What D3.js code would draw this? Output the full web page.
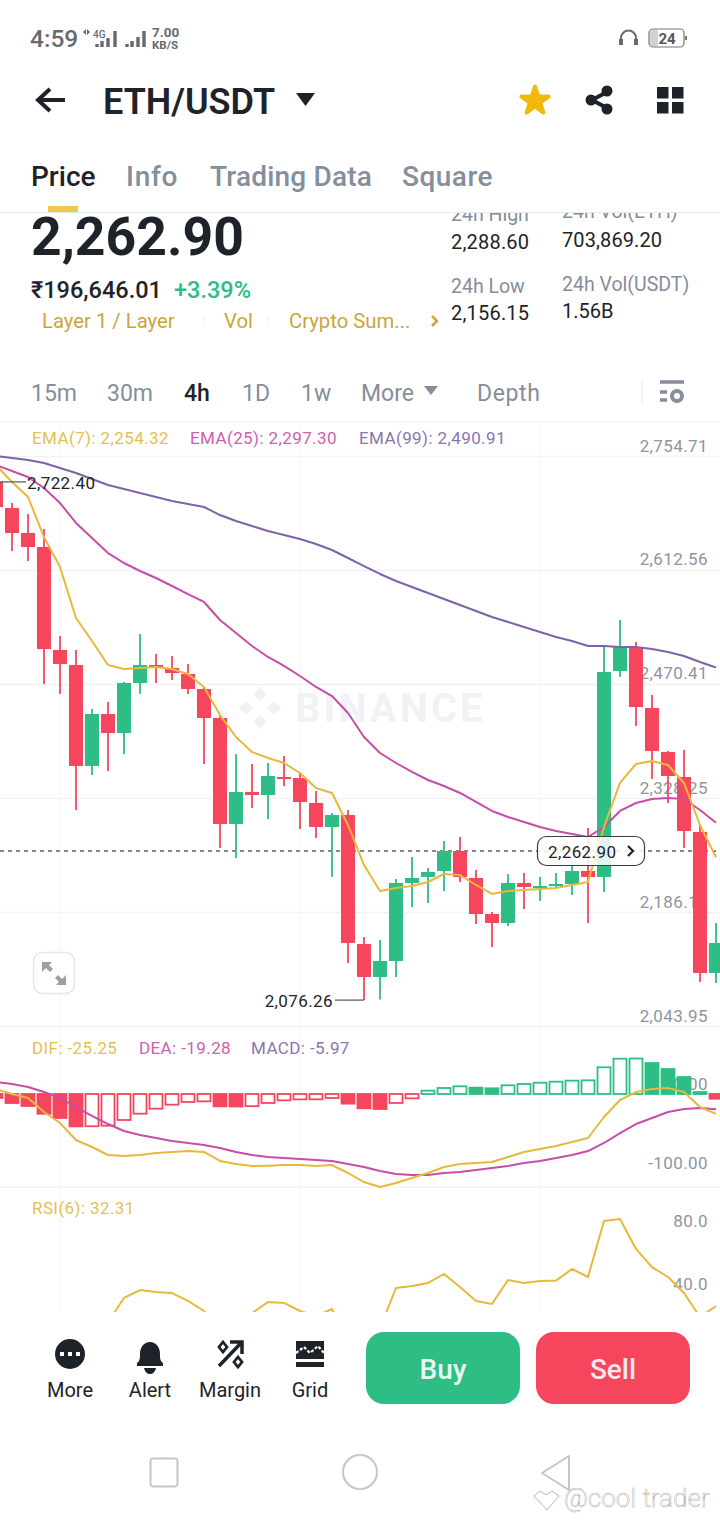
<!DOCTYPE html>
<html>
<head>
<meta charset="utf-8">
<title>ETH/USDT</title>
<script src="https://cdnjs.cloudflare.com/ajax/libs/d3/7.8.5/d3.min.js"></script>
<style>
  html, body { margin: 0; padding: 0; background: #fff; }
  svg { display: block; }
  text { font-family: Roboto, "Noto Sans", "DejaVu Sans", sans-serif; }
</style>
</head>
<body>
<div id="chart"></div>
<script>
// 4h candles
var candleOpen = [2722.4, 2689.9, 2658.7, 2641.2, 2512.8, 2494.1, 2368.2, 2433.0, 2409.3, 2471.7, 2494.1, 2490.4, 2482.9, 2464.2, 2428.0, 2295.8, 2335.7, 2332.0, 2354.4, 2353.2, 2322.0, 2292.1, 2307.1, 2146.2, 2105.1, 2125.0, 2222.3, 2229.8, 2237.2, 2262.2, 2228.5, 2183.6, 2172.4, 2222.3, 2217.3, 2219.8, 2221.0, 2237.2, 2229.8, 2486.6, 2516.5, 2440.5, 2385.6, 2354.4, 2285.9, 2110.1];
var candleHigh = [2722.4, 2696.1, 2682.4, 2663.7, 2530.3, 2512.8, 2439.2, 2448.0, 2472.9, 2532.7, 2507.8, 2505.3, 2495.3, 2466.7, 2430.5, 2383.1, 2370.7, 2371.9, 2380.6, 2360.7, 2337.0, 2309.6, 2313.3, 2154.9, 2151.2, 2227.3, 2254.7, 2241.0, 2274.6, 2279.6, 2238.5, 2186.1, 2233.5, 2234.7, 2229.8, 2234.7, 2248.5, 2290.9, 2516.5, 2550.2, 2522.8, 2456.7, 2386.9, 2388.1, 2295.8, 2172.4];
var candleLow = [2681.1, 2636.2, 2623.8, 2470.4, 2457.9, 2313.3, 2356.9, 2361.9, 2383.1, 2457.9, 2471.7, 2475.4, 2457.9, 2370.7, 2265.9, 2253.4, 2315.8, 2302.1, 2343.2, 2289.6, 2278.4, 2229.8, 2122.5, 2076.26, 2077.0, 2105.1, 2192.3, 2197.3, 2212.3, 2223.5, 2171.2, 2142.5, 2168.7, 2189.9, 2199.8, 2216.0, 2207.3, 2172.4, 2211.1, 2479.1, 2418.0, 2352.0, 2322.0, 2265.9, 2098.8, 2097.6];
var candleClose = [2691.1, 2658.7, 2641.2, 2514.0, 2495.3, 2368.2, 2433.0, 2409.3, 2471.7, 2494.1, 2490.4, 2484.1, 2464.2, 2428.0, 2295.8, 2335.7, 2332.0, 2355.7, 2353.2, 2323.3, 2292.1, 2307.1, 2147.5, 2105.1, 2125.0, 2222.3, 2228.5, 2236.0, 2262.2, 2229.8, 2183.6, 2172.4, 2222.3, 2217.3, 2218.5, 2221.0, 2237.2, 2229.8, 2485.4, 2516.5, 2441.7, 2386.9, 2355.7, 2287.1, 2110.1, 2147.5];

var ema7 = [2743.5, 2722.3, 2703.6, 2653.7, 2616.3, 2552.7, 2524.0, 2494.1, 2489.1, 2490.4, 2491.6, 2489.1, 2482.9, 2466.7, 2431.7, 2404.3, 2385.6, 2378.1, 2371.9, 2359.4, 2340.7, 2334.5, 2294.6, 2244.7, 2212.3, 2216.0, 2218.5, 2223.5, 2233.5, 2232.2, 2219.8, 2208.6, 2212.3, 2213.5, 2214.8, 2216.0, 2219.8, 2223.5, 2292.1, 2347.0, 2370.7, 2374.4, 2369.4, 2347.0, 2294.6, 2254.32];
var ema25 = [2743.5, 2736.0, 2728.5, 2714.8, 2696.1, 2671.2, 2652.5, 2633.7, 2621.3, 2611.3, 2602.6, 2592.6, 2582.6, 2572.7, 2550.2, 2534.0, 2517.8, 2504.1, 2492.9, 2480.4, 2466.7, 2455.4, 2434.2, 2404.3, 2384.4, 2371.9, 2360.7, 2350.7, 2343.2, 2334.5, 2323.3, 2312.1, 2304.6, 2298.3, 2292.1, 2287.1, 2283.4, 2279.6, 2292.1, 2312.1, 2322.0, 2327.0, 2328.3, 2327.0, 2313.3, 2297.3];
var ema99 = [2754.7, 2752.2, 2749.7, 2746.0, 2739.7, 2733.5, 2726.0, 2718.5, 2713.6, 2708.6, 2703.6, 2698.6, 2694.9, 2691.1, 2681.1, 2673.7, 2667.4, 2661.2, 2656.2, 2651.2, 2645.0, 2637.5, 2627.5, 2617.5, 2607.6, 2598.8, 2591.4, 2583.9, 2576.4, 2568.9, 2561.4, 2553.9, 2547.7, 2541.5, 2535.2, 2529.0, 2524.0, 2517.8, 2517.8, 2516.5, 2516.5, 2514.0, 2510.3, 2505.3, 2497.8, 2490.91];

var macdBars = [-5, -11.4, -15.2, -25, -30.4, -41, -40.8, -40.1, -32.9, -24.9, -18.6, -13.5, -10.1, -9.3, -15.6, -15.8, -15.4, -11.4, -8, -6.8, -6.7, -5.1, -12.2, -18.1, -19, -11.4, -5.5, 4.2, 7.6, 9.7, 8, 7.2, 11, 12.7, 14.3, 15.6, 16.9, 17.3, 33.8, 44.7, 44.9, 39.2, 31.6, 21.5, 2.5, -5.97];
var dif = [6.3, 0, -5.1, -22.8, -36.7, -58.2, -67.1, -77.2, -78.5, -77.2, -74.7, -73.4, -72.2, -73.4, -84.8, -88.6, -91.1, -90.7, -89.9, -89.9, -91.1, -89.9, -100, -111.4, -117.7, -112.7, -106.3, -100, -92.4, -88.6, -87.3, -86.1, -79.7, -73.4, -69.6, -65.8, -60.8, -55.7, -29.1, -7.6, 2.5, 6.3, 7.6, 2.5, -16.5, -25.25];
var dea = [15.2, 12.7, 8.9, 2.5, -5.1, -16.5, -27.8, -38, -46.8, -51.9, -55.7, -59.5, -62, -64.6, -68.4, -73.4, -77.2, -79.7, -81, -82.3, -83.5, -84.8, -88.6, -92.4, -97.5, -101.3, -102.5, -102.5, -100, -98.7, -96.2, -93.7, -91.1, -87.3, -84.8, -81, -77.2, -72.2, -62, -49.4, -38, -30.4, -22.8, -19, -17.7, -19.28];
var rsi = [29.8, 20.3, 17.1, 7.6, 10.8, 7.6, 14, 22.2, 37.5, 42.5, 41.3, 40.6, 35.6, 29.2, 14, 20.3, 27.9, 34.9, 34.3, 29.2, 26, 30.5, 7.6, 4.4, 18.4, 43.8, 45.1, 47, 52.7, 44.4, 35.6, 33.7, 48.9, 47, 48.3, 48.5, 55.9, 50.8, 86.3, 87.6, 68.6, 57.1, 50.8, 40.6, 25.4, 32.31];

var priceTicks = [2754.71, 2612.56, 2470.41, 2328.25, 2186.10, 2043.95];
var macdTicks = [0, -100];
var rsiTicks = [80, 40];
var gridCandles = [4, 19, 34];
var lastPrice = 2262.90;
var highMark = 2722.40;
var lowMark = 2076.26;

var GREEN = "#2ebd85", RED = "#f6465d", GRID = "#f1f2f3", DARK = "#1e2329", GRAY = "#848e9c";
var YELLOW = "#e6b93c", PINK = "#c84ca8", PURPLE = "#7f62a8";

var svg = d3.select("#chart").append("svg").attr("width", 720).attr("height", 1520);

var indices = d3.range(candleOpen.length);

// scales
var x = d3.scaleLinear().domain([0, 45]).range([-4, 716]);
var yPrice = d3.scaleLinear().domain([2754.71, 2043.95]).range([456, 1026]);
var yMacd = d3.scaleLinear().domain([0, -100]).range([1094, 1173]);
var yRsi = d3.scaleLinear().domain([80, 40]).range([1231, 1294]);

function label(parent, px, py, str, size, color, weight, anchor, spacing) {
  return parent.append("text")
    .attr("x", px).attr("y", py)
    .attr("font-size", size)
    .attr("fill", color)
    .attr("font-weight", weight || 400)
    .attr("text-anchor", anchor || "start")
    .attr("letter-spacing", spacing || 0)
    .text(str);
}

// small text inside the chart is a bit wider than plain roboto
function chartLabel(px, py, str, color, anchor) {
  return label(svg, px, py, str, 17, color, 400, anchor, 0.4);
}

// clip for the rsi panel
svg.append("clipPath").attr("id", "rsiClip").append("rect")
  .attr("x", 0).attr("y", 1187).attr("width", 720).attr("height", 125);
svg.append("clipPath").attr("id", "statClip").append("rect")
  .attr("x", 0).attr("y", 213).attr("width", 720).attr("height", 200);

// stats block
var stats = svg.append("g").attr("clip-path", "url(#statClip)");
label(stats, 31, 255, "2,262.90", 53.5, DARK, 700);
label(stats, 31, 298, "₹196,646.01", 23.5, DARK, 500);
label(stats, 174, 298, "+3.39%", 23.5, GREEN, 500);
label(stats, 42, 328, "Layer 1 / Layer", 20.3, "#c9a63a");
label(stats, 224, 328, "Vol", 20.3, "#c9a63a");
label(stats, 289, 328, "Crypto Sum...", 20.3, "#c9a63a");
stats.append("path").attr("d", "M432,316l5,5l-5,5").attr("fill", "none").attr("stroke", "#c9a63a").attr("stroke-width", 2.5);
stats.append("path").attr("d", "M204,316v9M268,316v9").attr("stroke", "#eeeeee");
label(stats, 451, 221, "24h High", 19.5, GRAY);
label(stats, 562, 218, "24h Vol(ETH)", 19.5, GRAY);
label(stats, 451, 249, "2,288.60", 20, DARK, 400, "start", 0.2);
label(stats, 562, 247, "703,869.20", 20, DARK, 400, "start", 0.1);
label(stats, 451, 293, "24h Low", 19.5, GRAY);
label(stats, 562, 291, "24h Vol(USDT)", 19.5, GRAY);
label(stats, 451, 320, "2,156.15", 20, DARK, 400, "start", 0.2);
label(stats, 562, 318, "1.56B", 20, DARK);

// interval row
label(svg, 31, 401, "15m", 23, GRAY);
label(svg, 107, 401, "30m", 23, GRAY);
label(svg, 184, 401, "4h", 23, DARK, 500);
label(svg, 242, 401, "1D", 23, GRAY);
label(svg, 301, 401, "1w", 23, GRAY);
label(svg, 361, 401, "More", 23, GRAY);
svg.append("path").attr("d", "M424,386h14l-7,9z").attr("fill", GRAY);
label(svg, 477, 401, "Depth", 23, GRAY, 400, "start", 0.6);
svg.append("path").attr("d", "M642,380v24").attr("stroke", "#eeeeee").attr("stroke-width", 1.5);
svg.append("path").attr("d", "M660,382h24M660,392h7M660,400h7").attr("stroke", GRAY).attr("stroke-width", 3.5);
svg.append("circle").attr("cx", 677).attr("cy", 396).attr("r", 5).attr("fill", "none").attr("stroke", GRAY).attr("stroke-width", 4);

// panel lines
svg.append("line").attr("x1", 0).attr("x2", 720).attr("y1", 422).attr("y2", 422).attr("stroke", GRID);
svg.append("line").attr("x1", 0).attr("x2", 720).attr("y1", 1187).attr("y2", 1187).attr("stroke", GRID).attr("stroke-width", 1.5);

svg.selectAll(".vgrid")
  .data(gridCandles)
  .enter()
  .append("line")
  .attr("class", "vgrid")
  .attr("x1", function (d) { return x(d); })
  .attr("x2", function (d) { return x(d); })
  .attr("y1", 422)
  .attr("y2", 1312)
  .attr("stroke", GRID);

// y axes, labels sit above their grid line, marks draw over them
function drawAxis(scale, ticks, fmt, withLine) {
  var g = svg.append("g").call(
    d3.axisRight(scale).tickValues(ticks).tickSize(720).tickFormat(function (d) {
      return fmt(d).replace("\u2212", "-");
    })
  );
  g.select(".domain").remove();
  g.selectAll(".tick line").attr("stroke", withLine ? GRID : "none").attr("stroke-width", 1.5);
  g.selectAll(".tick text")
    .attr("x", 708)
    .attr("dy", "-5px")
    .attr("text-anchor", "end")
    .attr("font-size", 17)
    .attr("letter-spacing", 0.4)
    .attr("font-family", "Roboto, sans-serif")
    .attr("fill", "#8f959e");
  return g;
}
drawAxis(yPrice, priceTicks, d3.format(",.2f"), true);
drawAxis(yMacd, macdTicks, d3.format(".2f"), false);
drawAxis(yRsi, rsiTicks, d3.format(".1f"), false);

// watermark
var wm = svg.append("g");
label(wm, 295, 722, "BINANCE", 40, "#f1f2f3", 700, "start", 3);
[[0, -14], [-14, 0], [14, 0], [0, 14]].forEach(function (o) {
  wm.append("path")
    .attr("transform", "translate(" + (260 + o[0]) + "," + (708 + o[1]) + ")")
    .attr("d", "M0,-7L7,0L0,7L-7,0Z")
    .attr("fill", "#f1f2f3");
});

// current price dashed line
svg.append("line")
  .attr("x1", 0).attr("x2", 720)
  .attr("y1", yPrice(lastPrice) + 0.5).attr("y2", yPrice(lastPrice) + 0.5)
  .attr("stroke", "#5f646b")
  .attr("stroke-width", 1.5)
  .attr("stroke-dasharray", "4 4");

// candles
var candleWidth = 14;
svg.selectAll(".wick")
  .data(indices)
  .enter()
  .append("line")
  .attr("class", "wick")
  .attr("x1", function (i) { return x(i); })
  .attr("x2", function (i) { return x(i); })
  .attr("y1", function (i) { return yPrice(candleHigh[i]); })
  .attr("y2", function (i) { return yPrice(candleLow[i]); })
  .attr("stroke-width", 1.8)
  .attr("stroke", function (i) { return candleClose[i] >= candleOpen[i] ? GREEN : RED; });

svg.selectAll(".body")
  .data(indices)
  .enter()
  .append("rect")
  .attr("class", "body")
  .attr("x", function (i) { return x(i) - candleWidth / 2; })
  .attr("width", candleWidth)
  .attr("y", function (i) { return yPrice(Math.max(candleOpen[i], candleClose[i])); })
  .attr("height", function (i) {
    return Math.max(2, Math.abs(yPrice(candleOpen[i]) - yPrice(candleClose[i])));
  })
  .attr("fill", function (i) { return candleClose[i] >= candleOpen[i] ? GREEN : RED; });

// moving averages
function drawLine(values, scale, color, clip) {
  var line = d3.line()
    .x(function (d, i) { return x(i); })
    .y(function (d) { return scale(d); });
  var p = svg.append("path")
    .attr("d", line(values))
    .attr("fill", "none")
    .attr("stroke", color)
    .attr("stroke-width", 2)
    .attr("stroke-linejoin", "round");
  if (clip) p.attr("clip-path", clip);
}
drawLine(ema99, yPrice, PURPLE);
drawLine(ema25, yPrice, PINK);
drawLine(ema7, yPrice, YELLOW);

// high and low marks
svg.append("line").attr("x1", 0).attr("x2", 26)
  .attr("y1", yPrice(highMark)).attr("y2", yPrice(highMark)).attr("stroke", "#555").attr("stroke-width", 1.2);
chartLabel(27, yPrice(highMark) + 7, d3.format(",.2f")(highMark), DARK);
svg.append("line").attr("x1", 335).attr("x2", x(23))
  .attr("y1", yPrice(lowMark)).attr("y2", yPrice(lowMark)).attr("stroke", "#555").attr("stroke-width", 1.2);
chartLabel(333, yPrice(lowMark) + 7, d3.format(",.2f")(lowMark), DARK, "end");

// price tag on the dashed line
svg.append("rect")
  .attr("x", 537.5).attr("y", 836.5).attr("width", 107).attr("height", 29).attr("rx", 9)
  .attr("fill", "#fff").attr("fill-opacity", 0.85)
  .attr("stroke", "#3a3f46").attr("stroke-width", 1.2);
chartLabel(548, yPrice(lastPrice) + 8, d3.format(",.2f")(lastPrice), DARK);
svg.append("path").attr("d", "M628,846l5,5l-5,5").attr("fill", "none").attr("stroke", DARK).attr("stroke-width", 2.2);

// legends
chartLabel(32, 444, "EMA(7): 2,254.32", "#e4bf52");
chartLabel(190, 444, "EMA(25): 2,297.30", "#cc5fb0");
chartLabel(359, 444, "EMA(99): 2,490.91", "#8c74b0");
chartLabel(32, 1054, "DIF: -25.25", "#e4bf52");
chartLabel(139, 1054, "DEA: -19.28", "#cc5fb0");
chartLabel(251, 1054, "MACD: -5.97", "#8c74b0");
chartLabel(32, 1214, "RSI(6): 32.31", "#e4bf52");

// expand button
svg.append("rect")
  .attr("x", 33.5).attr("y", 952.5).attr("width", 41).attr("height", 41).attr("rx", 9)
  .attr("fill", "#fff").attr("stroke", "#e6e7e9").attr("stroke-width", 1.5);
svg.append("path")
  .attr("d", "M42,962h10l-3,3l4,4l-3,3l-4,-4l-4,4zM66,985h-10l3,-3l-4,-4l3,-3l4,4l4,-4z")
  .attr("fill", "#9aa0a8");

// macd histogram: hollow while the bar is rising
svg.selectAll(".macdBar")
  .data(indices)
  .enter()
  .append("rect")
  .attr("class", "macdBar")
  .attr("x", function (i) { return x(i) - 6.5; })
  .attr("width", 13)
  .attr("y", function (i) { return Math.min(yMacd(0), yMacd(macdBars[i])); })
  .attr("height", function (i) { return Math.abs(yMacd(macdBars[i]) - yMacd(0)); })
  .attr("fill", function (i) {
    if (i > 0 && macdBars[i] >= macdBars[i - 1]) return "#fff";
    return macdBars[i] >= 0 ? GREEN : RED;
  })
  .attr("stroke", function (i) { return macdBars[i] >= 0 ? GREEN : RED; })
  .attr("stroke-width", 1.8);

drawLine(dea, yMacd, PINK);
drawLine(dif, yMacd, YELLOW);
drawLine(rsi, yRsi, YELLOW, "url(#rsiClip)");

// top bar
svg.append("rect").attr("x", 0).attr("y", 0).attr("width", 720).attr("height", 212).attr("fill", "#fff");
svg.append("line").attr("x1", 0).attr("x2", 720).attr("y1", 212.5).attr("y2", 212.5).attr("stroke", "#e9eaec");
svg.append("rect").attr("x", 48).attr("y", 206).attr("width", 30).attr("height", 6).attr("fill", "#f0c94a");

label(svg, 30, 47, "4:59", 24.5, "#666b70", 500);
svg.append("path").attr("d", "M86,29l-3,3l3,3zM87,29l3,3l-3,3z").attr("fill", "#666b70");
label(svg, 93, 38, "4G", 10, "#666b70", 500);
label(svg, 152, 37, "7.00", 13.5, "#666b70", 700);
label(svg, 152, 49, "KB/S", 11.5, "#666b70", 700);
svg.append("path")
  .attr("d", "M97,44v3M102,41v6M108,38v9M115,31v16M127,44v3M132,41v6M138,37v10M144,31v16")
  .attr("stroke", "#666b70").attr("stroke-width", 3.4);
// headphones and battery
svg.append("path").attr("d", "M621,44v-6a7.5,7.5 0 0 1 15,0v6").attr("fill", "none").attr("stroke", "#666b70").attr("stroke-width", 2);
svg.append("path").attr("d", "M621,39v6M636,39v6").attr("stroke", "#666b70").attr("stroke-width", 4);
svg.append("rect").attr("x", 649).attr("y", 29).attr("width", 35).attr("height", 18).attr("rx", 4)
  .attr("fill", "#fff").attr("stroke", "#777").attr("stroke-width", 1.2);
svg.append("rect").attr("x", 650).attr("y", 30).attr("width", 8).attr("height", 16).attr("fill", "#d0d2d4");
label(svg, 667, 44, "24", 15, "#55595e", 700, "middle");
svg.append("rect").attr("x", 685).attr("y", 36).attr("width", 2).attr("height", 4).attr("fill", "#777");

// header
svg.append("path")
  .attr("d", "M65,100H38M50,89L38,100L50,111")
  .attr("fill", "none").attr("stroke", DARK).attr("stroke-width", 4);
label(svg, 103, 114, "ETH/USDT", 36, DARK, 600);
svg.append("path").attr("d", "M296,93h19l-9.5,13z").attr("fill", DARK);
svg.append("path")
  .attr("transform", "translate(535,101)")
  .attr("d", d3.symbol().type(d3.symbolStar).size(230)())
  .attr("fill", "#f0b90b")
  .attr("stroke", "#f0b90b")
  .attr("stroke-width", 4)
  .attr("stroke-linejoin", "round");
svg.append("path").attr("d", "M607,92L592,100L607,108").attr("fill", "none").attr("stroke", DARK).attr("stroke-width", 4);
[[607, 91], [591, 100], [607, 109]].forEach(function (c) {
  svg.append("circle").attr("cx", c[0]).attr("cy", c[1]).attr("r", 5.5).attr("fill", DARK);
});
[[657, 87], [672, 87], [657, 102], [672, 102]].forEach(function (c) {
  svg.append("rect").attr("x", c[0]).attr("y", c[1]).attr("width", 11.5).attr("height", 11.5).attr("fill", DARK);
});

// tabs
label(svg, 31, 186, "Price", 28, DARK, 500);
label(svg, 126, 186, "Info", 28, GRAY, 500, "start", 0.7);
label(svg, 210, 186, "Trading Data", 28, GRAY, 500, "start", 0.2);
label(svg, 402, 186, "Square", 28, GRAY, 500, "start", 0.5);

// bottom toolbar
svg.append("rect").attr("x", 0).attr("y", 1312).attr("width", 720).attr("height", 208).attr("fill", "#fff");
svg.append("ellipse").attr("cx", 70).attr("cy", 1354).attr("rx", 15).attr("ry", 15).attr("fill", DARK);
[62, 70, 78].forEach(function (c) {
  svg.append("rect").attr("x", c - 2).attr("y", 1352).attr("width", 4).attr("height", 4).attr("fill", "#fff");
});
svg.append("path")
  .attr("d", "M137,1366v-3c3,-2 3,-5 3,-9c0,-7 4,-12 10,-12s10,5 10,12c0,4 0,7 3,9v3zM144,1368h12c-1,4 -3,6 -6,6s-5,-2 -6,-6z")
  .attr("fill", DARK);
svg.append("path")
  .attr("d", "M219,1366L241,1343M230,1342h12v12")
  .attr("fill", "none").attr("stroke", DARK).attr("stroke-width", 3.5);
svg.append("path").attr("d", "M223,1342l4,5l-4,5l-4,-5zM238,1357l4,5l-4,5l-4,-5z").attr("fill", "none").attr("stroke", DARK).attr("stroke-width", 2.8);
svg.append("rect").attr("x", 296).attr("y", 1341).attr("width", 28).attr("height", 18).attr("fill", DARK);
svg.append("path").attr("d", "M296,1353l8,-6l6,6l8,-7l6,7").attr("fill", "none").attr("stroke", "#fff").attr("stroke-width", 2.2).attr("stroke-dasharray", "3 2");
svg.append("rect").attr("x", 296).attr("y", 1362).attr("width", 28).attr("height", 5).attr("fill", DARK);
label(svg, 70, 1397, "More", 20, DARK, 400, "middle");
label(svg, 150, 1397, "Alert", 20, DARK, 400, "middle");
label(svg, 230, 1397, "Margin", 20, DARK, 400, "middle");
label(svg, 310, 1397, "Grid", 20, DARK, 400, "middle");

svg.append("rect").attr("x", 366).attr("y", 1332).attr("width", 154).attr("height", 72).attr("rx", 18).attr("fill", GREEN);
svg.append("rect").attr("x", 536).attr("y", 1332).attr("width", 154).attr("height", 72).attr("rx", 18).attr("fill", RED);
label(svg, 443, 1379, "Buy", 28, "#e8f8f1", 500, "middle");
label(svg, 613, 1379, "Sell", 28, "#fde8eb", 500, "middle");

// nav bar
svg.append("rect").attr("x", 150.5).attr("y", 1458.5).attr("width", 27).attr("height", 28).attr("rx", 3)
  .attr("fill", "none").attr("stroke", "#c4c6c9").attr("stroke-width", 2);
svg.append("circle").attr("cx", 360).attr("cy", 1472).attr("r", 17)
  .attr("fill", "none").attr("stroke", "#c4c6c9").attr("stroke-width", 2);
svg.append("path").attr("d", "M569,1456v34L542,1473z")
  .attr("fill", "none").attr("stroke", "#c4c6c9").attr("stroke-width", 2).attr("stroke-linejoin", "round");

// watermark at the corner
svg.append("path").attr("d", "M534,1496l6,-5l6,4l6,-4l7,5l-12,14z").attr("fill", "#fff").attr("stroke", "#b4b6b8");
label(svg, 564, 1507, "@cool trader", 26, "#fff", 300)
  .attr("stroke", "#b0b2b5").attr("stroke-width", 0.5);
</script>
</body>
</html>
